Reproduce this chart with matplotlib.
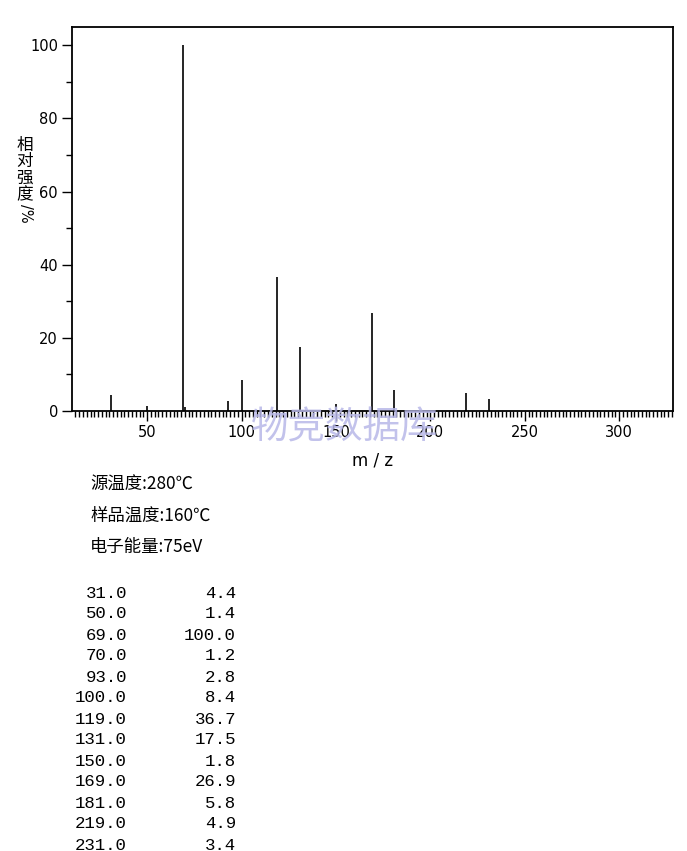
import numpy as np
import matplotlib.pyplot as plt
from matplotlib.ticker import MultipleLocator

plt.rcParams['font.family'] = ['DejaVu Sans', 'Noto Sans CJK SC']

# dane widma
mz = [31.0, 50.0, 69.0, 70.0, 93.0, 100.0, 119.0, 131.0, 150.0, 169.0, 181.0, 219.0, 231.0]
intensywnosc = [4.4, 1.4, 100.0, 1.2, 2.8, 8.4, 36.7, 17.5, 1.8, 26.9, 5.8, 4.9, 3.4]
info = ['源温度:280℃', '样品温度:160℃', '电子能量:75eV']

fig = plt.figure(figsize=(6.87, 8.51), dpi=100)
ax = fig.add_axes([0.1048, 0.517, 0.8748, 0.4513])

ax.vlines(mz, 0, intensywnosc, color='black', linewidth=1.2)
ax.set_xlim(10.2, 328.5)
ax.set_ylim(0, 105)

ax.set_xticks(range(50, 301, 50))
ax.xaxis.set_minor_locator(MultipleLocator(2))
ax.set_yticks(range(0, 101, 20))
ax.yaxis.set_minor_locator(MultipleLocator(10))
ax.tick_params(which='major', direction='out', length=7, width=1, labelsize=10.5, pad=3)
ax.tick_params(which='minor', direction='out', length=4, width=1)
for s in ax.spines.values():
    s.set_linewidth(1.3)

ax.set_xlabel('m / z', fontsize=12, labelpad=8)

# opis osi y - pionowo, znak po znaku
fig.text(25 / 687, 1 - 170 / 851, '相\n对\n强\n度', fontsize=12, family=['Noto Sans CJK SC'],
         ha='center', va='center', linespacing=0.95)
fig.text(25 / 687, 1 - 213 / 851, '/%', fontsize=10.5, rotation=-90, ha='center', va='center')

# znak wodny
fig.text(345 / 687, 1 - 428 / 851, '物竞数据库', fontsize=27, family=['Noto Sans CJK SC'],
         color='#b8b8e8', alpha=0.85, ha='center', va='center')

for i, t in enumerate(info):
    fig.text(90 / 687, 1 - (485 + i * 31) / 851, t, fontsize=12.5,
             family=['Noto Sans CJK SC', 'DejaVu Sans'], ha='left', va='center')

for i, (m, v) in enumerate(zip(mz, intensywnosc)):
    y = 1 - (593 + i * 21) / 851
    fig.text(127 / 687, y, f'{m:.1f}', fontsize=12.5, family='Liberation Mono', ha='right', va='center')
    fig.text(236 / 687, y, f'{v:.1f}', fontsize=12.5, family='Liberation Mono', ha='right', va='center')

fig.savefig('out.png', dpi=100)
